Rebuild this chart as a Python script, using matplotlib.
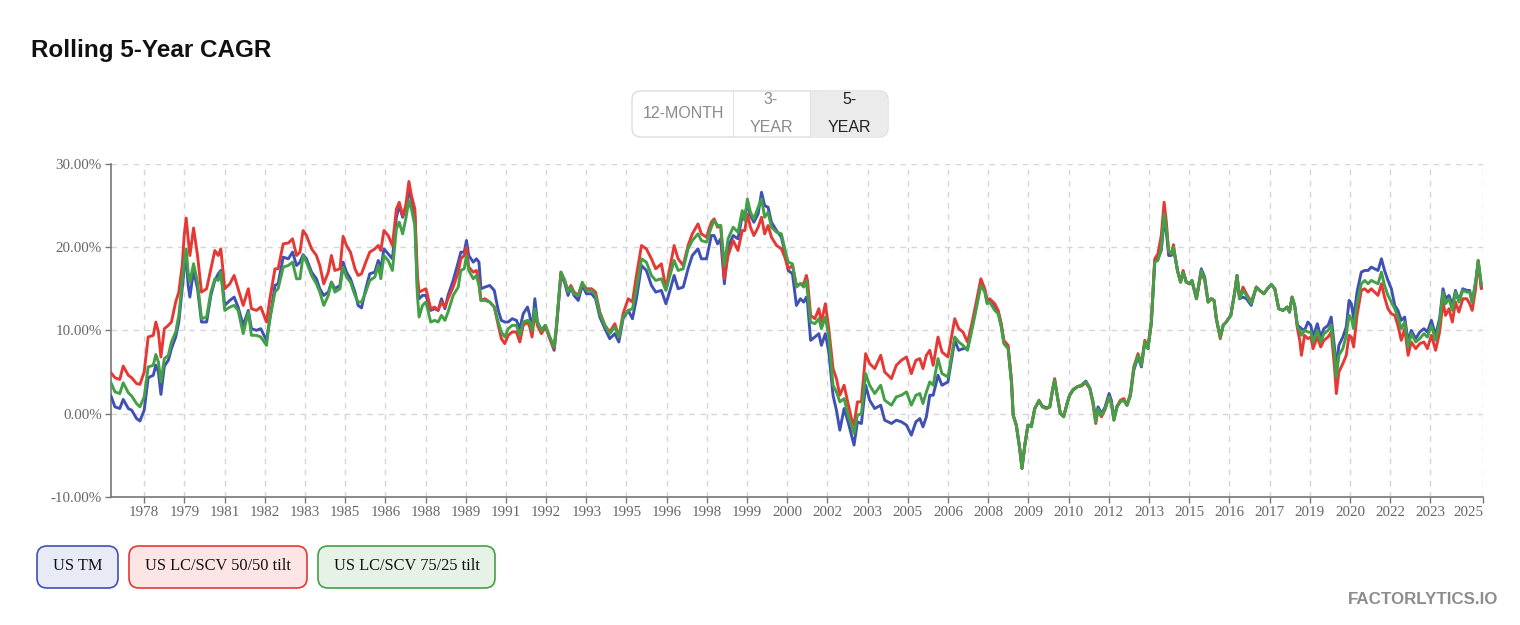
import matplotlib
matplotlib.use("Agg")
import matplotlib.pyplot as plt
from matplotlib.patches import FancyBboxPatch, Rectangle
from matplotlib.transforms import IdentityTransform
from matplotlib.ticker import FuncFormatter

# rolling 5-year CAGR (%); dates in decimal years
dates = [
    # 1977 - 1982
    1977.08, 1977.22, 1977.39, 1977.51, 1977.69, 1977.81, 1977.98, 1978.10, 1978.25, 1978.39,
    1978.57, 1978.66, 1978.75, 1978.84, 1978.96, 1979.10, 1979.21, 1979.36, 1979.47, 1979.59,
    1979.66, 1979.73, 1979.80, 1979.86, 1979.99, 1980.13, 1980.27, 1980.45, 1980.60, 1980.74,
    1980.86, 1980.95, 1981.09, 1981.27, 1981.42, 1981.56, 1981.74, 1981.92, 1982.03, 1982.21,
    1982.36, 1982.56, 1982.68, 1982.86, 1982.97,
    # 1983 - 1989
    1983.15, 1983.33, 1983.48, 1983.62, 1983.74, 1983.85, 1983.97, 1984.15, 1984.32, 1984.44,
    1984.58, 1984.74, 1984.85, 1984.97, 1985.15, 1985.26, 1985.38, 1985.52, 1985.68, 1985.79,
    1985.91, 1986.06, 1986.20, 1986.38, 1986.50, 1986.59, 1986.70, 1986.85, 1987.00, 1987.14,
    1987.24, 1987.36, 1987.47, 1987.58, 1987.67, 1987.79, 1987.88, 1987.94, 1988.06, 1988.18,
    1988.35, 1988.49, 1988.61, 1988.73, 1988.85, 1988.96, 1989.14,
    # 1989 - 1995
    1989.32, 1989.41, 1989.53, 1989.61, 1989.69, 1989.85, 1989.96, 1990.05, 1990.12, 1990.26,
    1990.43, 1990.59, 1990.73, 1990.84, 1990.96, 1991.08, 1991.22, 1991.37, 1991.49, 1991.61,
    1991.76, 1991.84, 1991.92, 1992.02, 1992.11, 1992.25, 1992.39, 1992.55, 1992.70, 1992.78,
    1992.94, 1993.08, 1993.19, 1993.29, 1993.40, 1993.55, 1993.69, 1993.84, 1994.02, 1994.16,
    1994.31, 1994.49, 1994.66, 1994.84, 1994.98, 1995.13, 1995.31,
    # 1995 - 2001
    1995.46, 1995.60, 1995.78, 1995.95, 1996.13, 1996.28, 1996.48, 1996.64, 1996.75, 1996.93,
    1997.07, 1997.25, 1997.42, 1997.57, 1997.77, 1997.89, 1998.07, 1998.24, 1998.34, 1998.46,
    1998.57, 1998.70, 1998.83, 1999.01, 1999.18, 1999.33, 1999.42, 1999.51, 1999.62, 1999.74,
    1999.89, 2000.01, 2000.12, 2000.24, 2000.36, 2000.54, 2000.71, 2000.83, 2000.95, 2001.10,
    2001.24, 2001.38, 2001.50, 2001.59,
    # 2001 - 2007
    2001.63, 2001.74, 2001.89, 2002.03, 2002.12, 2002.26, 2002.38, 2002.53, 2002.65, 2002.77,
    2002.92, 2003.06, 2003.18, 2003.27, 2003.39, 2003.53, 2003.68, 2003.82, 2004.00, 2004.21,
    2004.35, 2004.59, 2004.76, 2004.94, 2005.12, 2005.29, 2005.45, 2005.59, 2005.70, 2005.82,
    2005.94, 2006.06, 2006.23, 2006.37, 2006.58, 2006.82, 2006.96, 2007.11, 2007.27, 2007.41,
    2007.58, 2007.74,
    # 2007 - 2013
    2007.88, 2007.96, 2008.05, 2008.23, 2008.35, 2008.46, 2008.55, 2008.70, 2008.82, 2008.88,
    2008.99, 2009.11, 2009.19, 2009.29, 2009.40, 2009.52, 2009.64, 2009.79, 2009.91, 2010.05,
    2010.17, 2010.26, 2010.34, 2010.44, 2010.54, 2010.66, 2010.78, 2010.87, 2010.99, 2011.13,
    2011.28, 2011.44, 2011.58, 2011.69, 2011.79, 2011.87, 2011.99, 2012.11, 2012.26, 2012.34,
    2012.43, 2012.54, 2012.66, 2012.78, 2012.89, 2013.01, 2013.13, 2013.28, 2013.40, 2013.52,
    2013.63, 2013.75, 2013.83,
    # 2013 - 2020
    2013.87, 2013.98, 2014.10, 2014.20, 2014.28, 2014.36, 2014.45, 2014.53, 2014.60, 2014.67,
    2014.78, 2014.87, 2014.98, 2015.10, 2015.18, 2015.34, 2015.51, 2015.63, 2015.75, 2015.86,
    2015.96, 2016.04, 2016.18, 2016.28, 2016.39, 2016.55, 2016.69, 2016.77, 2016.86, 2016.98,
    2017.10, 2017.27, 2017.45, 2017.57, 2017.72, 2017.84, 2017.98, 2018.10, 2018.24, 2018.39,
    2018.54, 2018.62, 2018.71, 2018.80, 2018.90, 2018.98, 2019.04, 2019.15, 2019.27, 2019.37,
    2019.45, 2019.60, 2019.72, 2019.83, 2019.98, 2020.09,
    # 2020 - 2025
    2020.21, 2020.27, 2020.36, 2020.50, 2020.62, 2020.72, 2020.80, 2020.88, 2021.00, 2021.15,
    2021.27, 2021.39, 2021.50, 2021.62, 2021.74, 2021.86, 2021.97, 2022.09, 2022.21, 2022.33,
    2022.44, 2022.56, 2022.68, 2022.80, 2022.91, 2023.07, 2023.21, 2023.36, 2023.48, 2023.62,
    2023.77, 2023.91, 2024.03, 2024.12, 2024.24, 2024.36, 2024.47, 2024.59, 2024.73, 2024.87,
    2024.97, 2025.06, 2025.18, 2025.27, 2025.38, 2025.44,
]

us_tm = [
    2.1, 0.8, 0.6, 1.7, 0.6, 0.4, -0.6, -0.9, 0.4, 4.3,
    4.6, 5.8, 5.0, 2.3, 5.7, 6.4, 7.8, 9.2, 11.0, 15.0,
    17.4, 19.0, 15.4, 14.0, 17.2, 15.0, 11.0, 11.0, 14.2, 16.0,
    16.8, 17.2, 13.0, 13.6, 14.0, 12.8, 10.6, 12.4, 10.2, 10.0,
    10.2, 8.8, 11.4, 15.4, 15.6,

    18.8, 18.6, 19.4, 17.8, 18.2, 19.1, 18.6, 17.0, 16.2, 15.0,
    14.2, 14.6, 15.8, 15.0, 15.4, 18.2, 17.0, 16.2, 14.6, 13.0,
    12.7, 15.0, 16.8, 17.0, 18.4, 17.4, 19.8, 19.2, 18.6, 23.6,
    25.0, 23.6, 24.8, 26.6, 25.8, 23.8, 15.0, 13.8, 14.2, 14.2,
    12.4, 12.6, 12.4, 13.8, 12.6, 14.2, 16.0,

    18.2, 19.4, 19.4, 20.8, 19.0, 18.2, 18.6, 18.2, 15.0, 15.2,
    15.4, 14.8, 12.4, 11.2, 11.0, 11.0, 11.4, 11.2, 10.2, 12.0,
    12.8, 11.8, 9.8, 13.8, 11.0, 10.0, 10.6, 9.0, 7.6, 10.2,
    16.8, 15.6, 14.2, 15.2, 14.2, 13.6, 15.4, 14.4, 14.4, 13.8,
    11.6, 10.2, 9.0, 9.6, 8.6, 11.4, 12.4,

    11.4, 13.8, 17.8, 17.2, 15.4, 14.6, 14.8, 13.2, 14.4, 16.6,
    15.0, 15.2, 17.4, 19.0, 19.8, 18.6, 18.6, 21.4, 21.4, 20.4,
    21.0, 15.6, 20.0, 21.4, 21.0, 23.8, 23.8, 25.2, 23.8, 23.0,
    24.0, 26.6, 25.0, 24.8, 23.0, 22.0, 21.2, 19.4, 17.2, 16.8,
    13.0, 13.8, 13.4, 14.0,

    13.4, 8.8, 9.2, 9.6, 8.2, 9.6, 7.4, 2.2, 0.4, -2.0,
    0.6, -1.0, -2.6, -3.8, -1.0, -1.2, 3.4, 1.6, 0.6, 1.0,
    -0.8, -1.2, -0.8, -1.0, -1.4, -2.6, -1.0, -0.6, -1.6, -0.4,
    2.2, 2.2, 4.6, 3.4, 3.8, 8.8, 7.6, 7.8, 7.8, 10.2,
    13.0, 15.8,

    14.8, 13.4, 13.6, 12.6, 12.2, 10.6, 8.6, 8.0, 3.8, -0.2,
    -1.4, -4.2, -6.6, -3.8, -1.4, -1.6, 0.6, 1.5, 0.9, 0.7,
    0.8, 2.6, 4.0, 2.0, 0.0, -0.3, 1.2, 2.2, 2.8, 3.2,
    3.4, 3.9, 3.1, 1.5, -0.6, 0.8, 0.0, 0.7, 2.4, 1.6,
    -0.6, 0.9, 1.5, 1.6, 1.0, 2.1, 5.2, 6.8, 5.6, 8.6,
    7.8, 10.8, 15.8,

    18.4, 18.6, 19.6, 23.2, 21.8, 19.0, 19.0, 19.6, 18.6, 17.2,
    15.8, 17.0, 15.8, 15.6, 16.0, 13.8, 17.4, 16.4, 13.4, 13.8,
    13.6, 11.4, 9.2, 10.6, 11.0, 11.8, 14.6, 16.6, 13.8, 14.0,
    13.8, 13.0, 15.2, 14.8, 14.4, 15.0, 15.5, 15.0, 12.6, 12.4,
    12.8, 12.2, 14.0, 13.0, 10.6, 10.4, 10.2, 10.0, 11.0, 10.6,
    9.2, 10.8, 9.2, 10.2, 10.6, 11.6,

    7.8, 5.4, 8.2, 9.2, 10.4, 13.6, 13.2, 11.4, 14.6, 17.0,
    17.2, 17.2, 17.6, 17.4, 17.2, 18.6, 17.2, 16.0, 15.0, 13.0,
    12.4, 11.2, 11.6, 8.6, 10.0, 9.0, 9.8, 10.2, 9.8, 11.2,
    9.4, 11.4, 15.0, 13.8, 14.2, 13.0, 14.8, 13.6, 15.0, 14.8,
    14.8, 13.4, 15.8, 18.2, 15.2, 15.2,
]

tilt_50_50 = [
    4.9, 4.3, 4.1, 5.7, 4.6, 4.3, 3.6, 3.5, 5.0, 9.2,
    9.4, 11.0, 9.8, 6.8, 10.2, 10.6, 11.0, 13.4, 14.6, 17.8,
    21.4, 23.5, 21.0, 19.0, 22.3, 19.0, 14.6, 15.0, 17.4, 19.6,
    19.0, 19.8, 15.0, 15.6, 16.6, 15.0, 13.0, 15.0, 12.6, 12.4,
    12.8, 11.0, 13.8, 17.4, 17.4,

    20.4, 20.5, 21.0, 19.0, 19.4, 22.0, 21.4, 19.8, 19.0, 17.8,
    15.6, 17.0, 19.0, 17.2, 17.4, 21.3, 20.2, 19.4, 17.4, 16.6,
    16.8, 18.2, 19.4, 19.8, 20.2, 19.6, 22.0, 21.4, 20.2, 24.6,
    25.4, 23.8, 25.0, 27.9, 26.2, 24.6, 16.6, 14.6, 14.8, 15.0,
    12.6, 12.8, 12.4, 13.4, 12.8, 13.8, 15.2,

    17.0, 18.6, 19.0, 20.0, 17.6, 17.0, 17.2, 15.8, 13.6, 13.8,
    13.4, 12.8, 10.6, 9.0, 8.4, 9.4, 9.8, 9.8, 8.6, 10.6,
    11.0, 10.4, 9.2, 12.2, 10.6, 9.6, 10.4, 9.0, 7.8, 10.4,
    17.0, 15.8, 14.8, 15.4, 14.6, 14.2, 15.6, 15.0, 15.0, 14.6,
    12.2, 10.6, 9.8, 10.8, 9.2, 12.0, 13.8,

    13.4, 16.6, 20.2, 19.8, 18.6, 17.4, 18.0, 15.0, 17.0, 20.2,
    18.6, 17.8, 20.2, 21.6, 22.8, 21.6, 21.2, 23.0, 23.4, 22.4,
    22.6, 16.2, 19.0, 20.8, 19.6, 22.0, 22.0, 24.0, 22.4, 21.4,
    22.4, 23.6, 21.6, 22.6, 21.2, 20.2, 19.8, 18.8, 17.4, 17.8,
    15.4, 15.6, 15.6, 16.6,

    16.0, 11.8, 11.4, 12.6, 11.0, 13.2, 10.2, 5.4, 4.2, 2.2,
    3.4, 1.2, -0.6, -1.4, 1.4, 1.4, 7.2, 6.0, 5.4, 7.0,
    5.0, 4.2, 5.8, 6.4, 6.8, 4.8, 6.4, 6.6, 5.4, 7.0,
    7.6, 5.8, 9.2, 7.4, 6.8, 11.4, 10.2, 9.8, 8.6, 10.6,
    13.4, 16.2,

    15.0, 13.6, 13.8, 13.2, 12.4, 10.8, 8.8, 8.2, 4.0, -0.2,
    -1.4, -4.2, -6.6, -3.8, -1.4, -1.4, 0.6, 1.6, 0.8, 0.6,
    0.8, 2.8, 4.2, 2.0, 0.1, -0.4, 1.2, 2.2, 2.9, 3.2,
    3.3, 3.7, 3.0, 1.2, -1.2, 0.4, -0.4, 0.4, 2.0, 1.2,
    -0.8, 0.8, 1.6, 1.8, 1.0, 2.4, 5.6, 7.2, 6.0, 8.8,
    8.0, 11.2, 16.0,

    18.6, 19.2, 21.4, 25.4, 23.0, 19.4, 19.2, 20.3, 18.6, 17.2,
    15.8, 17.2, 15.8, 15.6, 16.0, 13.8, 17.0, 16.0, 13.4, 13.8,
    13.6, 11.4, 9.0, 10.6, 11.0, 11.8, 14.6, 16.6, 13.8, 15.2,
    14.4, 13.4, 15.2, 14.8, 14.4, 15.0, 15.5, 15.0, 12.6, 12.4,
    12.8, 12.2, 14.0, 13.0, 10.2, 8.8, 7.0, 9.4, 9.0, 9.2,
    7.8, 9.2, 8.0, 8.8, 9.2, 9.8,

    5.4, 2.4, 5.0, 6.0, 7.0, 9.4, 9.2, 8.0, 11.8, 14.8,
    15.0, 14.6, 15.0, 14.6, 14.2, 15.6, 14.0, 12.6, 12.0, 11.8,
    10.6, 8.8, 10.2, 7.0, 8.6, 7.8, 8.4, 8.6, 7.8, 9.4,
    7.6, 9.8, 13.4, 11.8, 12.6, 11.0, 13.4, 12.2, 13.8, 13.8,
    13.2, 12.4, 15.0, 18.4, 15.0, 15.2,
]

tilt_75_25 = [
    3.7, 2.6, 2.4, 3.7, 2.5, 2.1, 1.2, 0.8, 2.0, 5.6,
    5.8, 7.1, 6.2, 3.8, 6.6, 7.0, 8.6, 9.8, 11.8, 15.8,
    18.2, 19.8, 17.0, 15.8, 18.0, 15.8, 11.4, 11.6, 14.6, 16.2,
    16.0, 17.0, 12.4, 12.8, 13.0, 12.4, 9.6, 12.2, 9.4, 9.4,
    9.2, 8.2, 11.4, 14.6, 15.0,

    17.6, 17.8, 18.2, 16.2, 16.2, 19.0, 18.2, 16.6, 15.6, 14.6,
    13.0, 14.2, 15.8, 14.6, 15.0, 17.6, 16.4, 15.8, 14.2, 13.4,
    13.4, 14.6, 16.0, 16.4, 17.8, 16.2, 19.0, 18.4, 17.2, 22.2,
    23.0, 21.6, 23.4, 25.6, 24.6, 22.6, 14.2, 11.6, 13.0, 13.4,
    11.0, 11.2, 11.0, 11.8, 11.2, 12.2, 14.2,

    15.2, 17.2, 17.4, 19.0, 17.2, 16.2, 16.6, 15.4, 13.6, 13.6,
    13.4, 12.8, 11.0, 9.8, 9.2, 10.2, 10.6, 10.6, 9.4, 11.0,
    11.2, 11.0, 10.0, 12.6, 11.0, 10.0, 10.6, 9.2, 8.0, 10.6,
    17.0, 16.0, 14.6, 15.2, 14.4, 14.2, 15.8, 14.8, 14.8, 14.2,
    12.0, 10.6, 9.6, 10.4, 9.2, 11.6, 12.4,

    12.6, 15.0, 18.6, 18.2, 16.6, 16.0, 16.2, 14.8, 16.2, 18.4,
    17.2, 17.4, 19.8, 20.8, 21.6, 20.8, 20.6, 22.4, 23.2, 22.6,
    22.6, 17.8, 21.0, 22.4, 21.8, 24.4, 23.2, 25.8, 24.2, 23.4,
    24.8, 25.8, 23.6, 24.2, 22.4, 21.8, 21.6, 19.8, 18.2, 18.0,
    15.2, 15.6, 15.2, 16.0,

    14.6, 11.0, 10.8, 11.4, 10.2, 11.6, 9.2, 3.4, 2.6, 1.4,
    1.8, -0.2, -1.4, -2.4, -0.2, 0.0, 4.8, 3.4, 2.4, 3.4,
    1.6, 1.0, 2.0, 2.2, 2.6, 1.0, 2.2, 2.4, 1.2, 2.6,
    3.8, 3.4, 6.6, 4.8, 4.4, 9.2, 8.6, 8.2, 7.6, 9.8,
    12.6, 15.4,

    14.6, 13.2, 13.4, 12.4, 12.0, 10.4, 8.4, 7.8, 3.6, -0.2,
    -1.4, -4.2, -6.6, -3.8, -1.4, -1.6, 0.6, 1.5, 0.8, 0.6,
    0.8, 2.6, 4.0, 2.0, 0.0, -0.4, 1.2, 2.2, 2.8, 3.2,
    3.4, 3.8, 3.0, 1.4, -1.0, 0.5, -0.2, 0.5, 2.0, 1.3,
    -0.8, 0.8, 1.4, 1.6, 1.0, 2.2, 5.4, 7.0, 5.8, 8.6,
    7.8, 11.0, 15.8,

    18.2, 18.4, 19.8, 24.0, 22.2, 19.6, 19.2, 20.0, 18.6, 17.2,
    15.8, 17.0, 15.8, 15.6, 16.0, 13.8, 17.2, 16.2, 13.4, 13.8,
    13.6, 11.4, 9.2, 10.6, 11.0, 11.8, 14.6, 16.6, 13.8, 14.8,
    14.2, 13.2, 15.2, 14.8, 14.4, 15.0, 15.5, 15.0, 12.6, 12.4,
    12.8, 12.2, 14.0, 13.0, 10.4, 10.0, 9.4, 10.0, 9.8, 9.8,
    8.6, 10.0, 8.6, 9.6, 10.0, 10.6,

    7.0, 4.4, 7.0, 7.8, 9.4, 11.8, 11.4, 10.2, 13.2, 15.6,
    16.0, 15.6, 16.0, 15.8, 15.6, 17.0, 15.4, 14.2, 13.4, 12.6,
    11.6, 10.2, 11.0, 8.0, 9.6, 8.6, 9.0, 9.6, 9.2, 10.6,
    8.8, 11.0, 14.6, 13.2, 13.8, 12.4, 14.6, 13.4, 14.8, 14.6,
    14.6, 13.4, 15.8, 18.4, 15.6, 15.4,
]

assert len(dates) == len(us_tm) == len(tilt_50_50) == len(tilt_75_25), \
    (len(dates), len(us_tm), len(tilt_50_50), len(tilt_75_25))

series_names = ["US TM", "US LC/SCV 50/50 tilt", "US LC/SCV 75/25 tilt"]
line_colors = ["#3f51b5", "#e53935", "#43a047"]
box_fills = ["#e8eaf6", "#fde5e5", "#e6f2e6"]

W, H = 1520, 625
SERIF = "Liberation Serif"
SANS = "Liberation Sans"

fig = plt.figure(figsize=(W / 100, H / 100), dpi=100)
fig.patch.set_facecolor("white")
ax = fig.add_axes([111 / W, 1 - 496.7 / H, (1483 - 111) / W, (496.7 - 164) / H])

# blue first, red over it, green on top
for vals, col in zip([us_tm, tilt_50_50, tilt_75_25], line_colors):
    ax.plot(dates, vals, color=col, lw=2.1, solid_joinstyle="round", zorder=3)

x0, x1 = dates[0], dates[-1]
ax.set_xlim(x0, x1)
ax.set_ylim(-10, 30)

# x ticks every 17 months from Apr 1978, plus the last month
ticks = [1978.25 + k * 17 / 12 for k in range(33)] + [x1]
ax.set_xticks(ticks)
ax.set_xticklabels([str(int(t)) for t in ticks])
ax.set_yticks([-10, 0, 10, 20, 30])
ax.yaxis.set_major_formatter(FuncFormatter(lambda v, p: f"{v:.2f}%"))

ax.grid(True, color="#d6d6d6", lw=1, linestyle=(0, (4, 4)), zorder=0)
for s in ["top", "right"]:
    ax.spines[s].set_visible(False)
for s in ["left", "bottom"]:
    ax.spines[s].set_color("#777777")
    ax.spines[s].set_linewidth(1.2)
ax.tick_params(axis="both", colors="#777777", length=4.5, width=1, labelsize=10.8,
               labelcolor="#666666")
ax.tick_params(axis="x", pad=2.5)
ax.tick_params(axis="y", pad=2)
for lab in ax.get_xticklabels() + ax.get_yticklabels():
    lab.set_fontfamily(SERIF)
ax.get_xticklabels()[-1].set_horizontalalignment("right")

# title
fig.text(31 / W, 1 - 51 / H, "Rolling 5-Year CAGR", fontsize=17.5, fontweight="bold",
         family=SANS, color="#111111", va="center", ha="left")

ident = IdentityTransform()


def rbox(x, y, w, h, r, fc, ec, lw=1.0, z=1):
    # x, y top-left in image pixels
    p = FancyBboxPatch((x, H - y - h), w, h, boxstyle=f"round,pad=0,rounding_size={r}",
                       fc=fc, ec=ec, lw=lw, transform=ident, zorder=z)
    fig.add_artist(p)


# period buttons
rbox(632, 91, 256, 46, 9, "white", "#dddddd", lw=1.0, z=1)
rbox(810, 91.5, 77.5, 45, 8.5, "#ebebeb", "none", z=2)
fig.add_artist(Rectangle((810, H - 136.5), 15, 45, fc="#ebebeb", ec="none",
                         transform=ident, zorder=2))
fig.add_artist(Rectangle((733, H - 137), 0.8, 46, fc="#e2e2e2", ec="none",
                         transform=ident, zorder=3))
fig.add_artist(Rectangle((810, H - 137), 0.8, 46, fc="#e2e2e2", ec="none",
                         transform=ident, zorder=3))
btn_kw = dict(fontsize=11.5, family=SANS, ha="center", va="center", zorder=4)
fig.text(683 / W, 1 - 113 / H, "12-MONTH", color="#8a8a8a", **btn_kw)
fig.text(771 / W, 1 - 99 / H, "3-", color="#8a8a8a", **btn_kw)
fig.text(771 / W, 1 - 127 / H, "YEAR", color="#8a8a8a", **btn_kw)
fig.text(849 / W, 1 - 99 / H, "5-", color="#222222", **btn_kw)
fig.text(849 / W, 1 - 127 / H, "YEAR", color="#222222", **btn_kw)

# legend boxes
legend_x = [(37, 118), (129, 307), (318, 495)]
for (lx0, lx1), name, col, fc in zip(legend_x, series_names, line_colors, box_fills):
    rbox(lx0, 546, lx1 - lx0, 42, 10, fc, col, lw=1.2, z=2)
    fig.text((lx0 + lx1) / 2 / W, 1 - 566 / H, name, fontsize=11.8, family=SERIF,
             color="#111111", ha="center", va="center", zorder=3)

# watermark
fig.text(1498 / W, 1 - 600 / H, "FACTORLYTICS.IO", fontsize=12.2, fontweight="bold",
         family=SANS, color="#8c8c8c", ha="right", va="center")

fig.savefig("out.png", dpi=100, facecolor="white")
